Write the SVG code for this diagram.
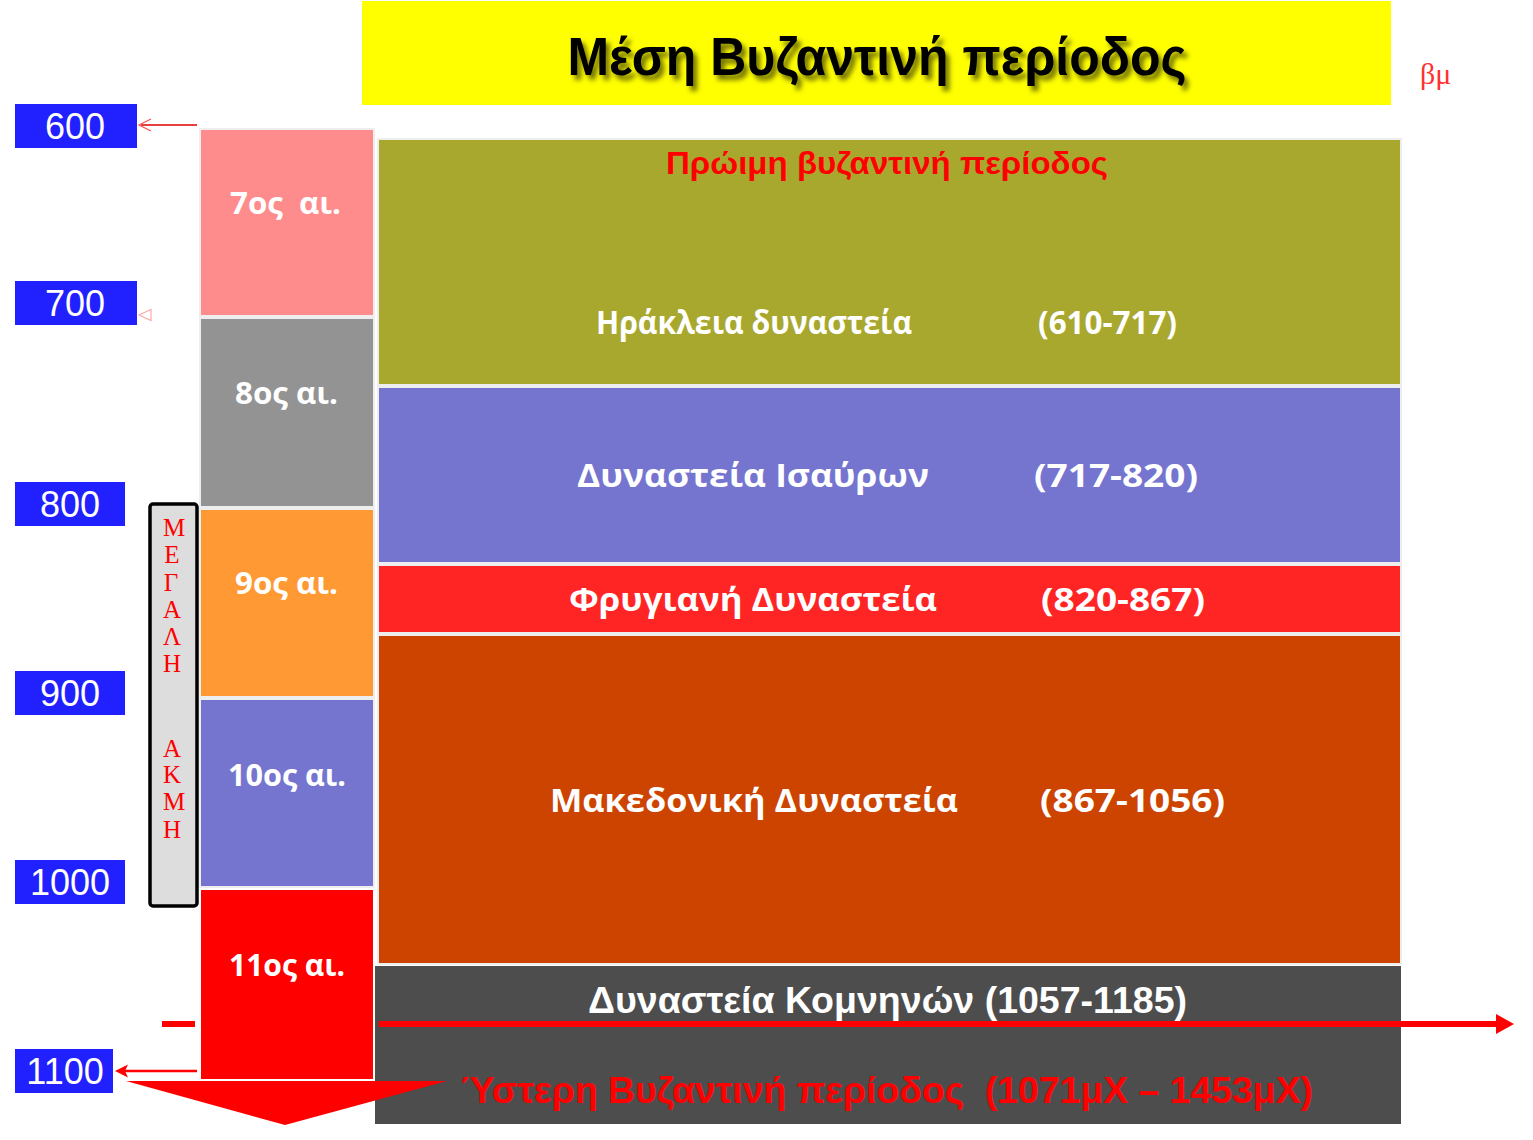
<svg xmlns="http://www.w3.org/2000/svg" width="1533" height="1140" viewBox="0 0 1533 1140">
<style>
.year{fill:#2121FF}
.yt{font-family:"Liberation Sans",Arial,sans-serif;font-size:36px;fill:#fff;text-anchor:middle}
.cent{stroke:#EEEEEE;stroke-width:2}
.ct{font-family:"Open Sans","DejaVu Sans",sans-serif;font-weight:bold;font-size:31px;fill:#fff;white-space:pre}
.dyn{stroke:#EEEEEE;stroke-width:2}
.dt{font-family:"Open Sans","DejaVu Sans",sans-serif;font-weight:bold;font-size:32px;fill:#fff}
.nt{font-family:"Liberation Sans",Arial,sans-serif;font-weight:bold;white-space:pre}
.akmi{font-family:"Liberation Serif","Times New Roman",serif;font-size:25px;fill:#FF0000;text-anchor:middle}
</style>
<defs>
<filter id="sh" x="-5%" y="-20%" width="110%" height="150%">
<feDropShadow dx="4" dy="5" stdDeviation="2.5" flood-color="#000" flood-opacity="0.55"/>
</filter>
</defs>
<rect width="1533" height="1140" fill="#fff"/>

<g id="title">
<rect x="362" y="1" width="1029" height="104" fill="#FFFF00"/>
<text x="877" y="75" class="nt" font-size="54" fill="#000" text-anchor="middle" textLength="619" lengthAdjust="spacingAndGlyphs" filter="url(#sh)">Μέση Βυζαντινή περίοδος</text>
</g>
<g id="signature">
<text x="1420" y="84" font-family="Liberation Serif,serif" font-size="30" fill="#FF3030">βμ</text>
</g>

<g id="years">
<g id="y600"><rect class="year" x="15" y="104" width="122" height="44"/><text class="yt" x="75" y="139">600</text></g>
<g id="y700"><rect class="year" x="15" y="281" width="122" height="44"/><text class="yt" x="75" y="316">700</text></g>
<g id="y800"><rect class="year" x="15" y="482" width="110" height="44"/><text class="yt" x="70" y="517">800</text></g>
<g id="y900"><rect class="year" x="15" y="671" width="110" height="44"/><text class="yt" x="70" y="706">900</text></g>
<g id="y1000"><rect class="year" x="15" y="860" width="110" height="44"/><text class="yt" x="70" y="895">1000</text></g>
<g id="y1100"><rect class="year" x="15" y="1049" width="98" height="44"/><text class="yt" x="65" y="1084">1100</text></g>
</g>

<g id="akmi">
<rect x="150" y="504" width="47" height="402" rx="3" fill="#DDDDDD" stroke="#000" stroke-width="3.5"/>
<text class="akmi" x="174" y="536">Μ</text>
<text class="akmi" x="172" y="563">Ε</text>
<text class="akmi" x="171" y="591">Γ</text>
<text class="akmi" x="172" y="618">Α</text>
<text class="akmi" x="172" y="645">Λ</text>
<text class="akmi" x="172" y="672">Η</text>
<text class="akmi" x="172" y="757">Α</text>
<text class="akmi" x="172" y="783">Κ</text>
<text class="akmi" x="174" y="810">Μ</text>
<text class="akmi" x="172" y="838">Η</text>
</g>

<g id="c7"><rect class="cent" x="200" y="129" width="174" height="187" fill="#FF8C8C"/><text class="ct" x="230" y="214" textLength="111" lengthAdjust="spacingAndGlyphs">7ος  αι.</text></g>
<g id="c8"><rect class="cent" x="200" y="318" width="174" height="189" fill="#939393"/><text class="ct" x="235" y="404" textLength="103" lengthAdjust="spacingAndGlyphs">8ος αι.</text></g>
<g id="c9"><rect class="cent" x="200" y="509" width="174" height="188" fill="#FF9933"/><text class="ct" x="235" y="594" textLength="103" lengthAdjust="spacingAndGlyphs">9ος αι.</text></g>
<g id="c10"><rect class="cent" x="200" y="699" width="174" height="188" fill="#7575D0"/><text class="ct" x="228" y="786" textLength="118" lengthAdjust="spacingAndGlyphs">10ος αι.</text></g>

<g id="d1"><rect class="dyn" x="378" y="139" width="1023" height="246" fill="#A9A82E"/>
<text class="nt" x="887" y="174" font-size="31" fill="#FF0000" text-anchor="middle" textLength="442" lengthAdjust="spacingAndGlyphs">Πρώιμη βυζαντινή περίοδος</text>
<text class="dt" x="596" y="334" textLength="316" lengthAdjust="spacingAndGlyphs">Ηράκλεια δυναστεία</text>
<text class="dt" x="1038" y="334" textLength="139" lengthAdjust="spacingAndGlyphs">(610-717)</text></g>
<g id="d2"><rect class="dyn" x="378" y="387" width="1023" height="176" fill="#7575D0"/>
<text class="dt" x="577" y="487" font-size="35" textLength="352" lengthAdjust="spacingAndGlyphs">Δυναστεία Ισαύρων</text>
<text class="dt" x="1034" y="487" font-size="35" textLength="164" lengthAdjust="spacingAndGlyphs">(717-820)</text></g>
<g id="d3"><rect class="dyn" x="378" y="565" width="1023" height="68" fill="#FF2525"/>
<text class="dt" x="569" y="611" font-size="35" textLength="368" lengthAdjust="spacingAndGlyphs">Φρυγιανή Δυναστεία</text>
<text class="dt" x="1041" y="611" font-size="35" textLength="164" lengthAdjust="spacingAndGlyphs">(820-867)</text></g>
<g id="d4"><rect class="dyn" x="378" y="635" width="1023" height="329" fill="#CC4400"/>
<text class="dt" x="550" y="812" font-size="35" textLength="408" lengthAdjust="spacingAndGlyphs">Μακεδονική Δυναστεία</text>
<text class="dt" x="1040" y="812" font-size="35" textLength="185" lengthAdjust="spacingAndGlyphs">(867-1056)</text></g>
<g id="d5"><rect x="375" y="966" width="1026" height="158" fill="#4D4D4D"/>
<text class="nt" x="588" y="1013" font-size="36" fill="#fff" textLength="599" lengthAdjust="spacingAndGlyphs">Δυναστεία Κομνηνών (1057-1185)</text>
<text class="nt" x="460" y="1103" font-size="37" fill="#FF0000" textLength="853" lengthAdjust="spacingAndGlyphs">Ύστερη Βυζαντινή περίοδος  (1071μΧ – 1453μΧ)</text></g>

<g id="connectors">
<line x1="162" y1="1024" x2="195" y2="1024" stroke="#FF0000" stroke-width="6"/>
<line x1="379" y1="1024" x2="1498" y2="1024" stroke="#FF0000" stroke-width="6"/>
<polygon points="1496,1014 1514,1024 1496,1034" fill="#FF0000"/>
<line x1="197" y1="125" x2="141" y2="125" stroke="#E00000" stroke-width="1.3"/>
<polyline points="151,119 139,125 151,131" fill="none" stroke="#FF5050" stroke-width="1.2"/>
<polygon points="139,315 151,309.5 151,320.5" fill="none" stroke="#FFA8A8" stroke-width="1.2"/>
<line x1="197" y1="1071" x2="124" y2="1071" stroke="#FF0000" stroke-width="2.5"/>
<polygon points="115,1071 128,1064.5 125,1071 128,1077.5" fill="#FF0000"/>
</g>

<g id="c11">
<rect x="200" y="889" width="174" height="191" fill="#FF0000" stroke="#FFFFFF" stroke-width="2"/>
<polygon points="126,1081 447,1081 285,1125" fill="#FF0000"/>
<text class="ct" x="229" y="976" textLength="116" lengthAdjust="spacingAndGlyphs">11ος αι.</text>
</g>
</svg>
